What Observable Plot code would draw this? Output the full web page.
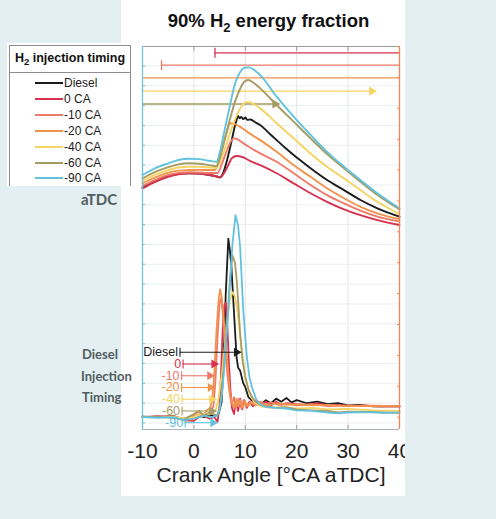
<!DOCTYPE html>
<html>
<head>
<meta charset="utf-8">
<script src="https://cdn.jsdelivr.net/npm/d3@7"></script>
<script src="https://cdn.jsdelivr.net/npm/@observablehq/plot@0.6"></script>
<style>
html,body{margin:0;padding:0;}
body{width:496px;height:519px;background:#e3eff1;position:relative;overflow:hidden;font-family:"Liberation Sans",Arial,sans-serif;}
#panel{position:absolute;left:121px;top:0;width:284px;height:496px;background:#fff;overflow:hidden;}
#panel svg{position:absolute;left:0;top:0;}
#title{position:absolute;left:0;top:12px;width:295px;text-align:center;font-weight:bold;font-size:18.5px;line-height:18.5px;color:#111;white-space:nowrap;}
#title sub{font-size:13px;vertical-align:-5px;line-height:0;}
#legend{position:absolute;left:7px;top:43px;width:127px;height:143px;background:#fff;overflow:hidden;}
#legbox{position:absolute;left:2px;top:2px;width:120px;height:160px;border:1px solid #8c8c8c;}
#legtitle{position:absolute;left:0;top:0;width:120px;height:26px;border-bottom:1px solid #8c8c8c;text-align:center;font-weight:bold;font-size:12.5px;line-height:25px;color:#111;white-space:nowrap;}
#legtitle sub{font-size:9.5px;vertical-align:-3px;line-height:0;}
.item{position:absolute;left:0;height:14px;width:120px;font-size:12px;line-height:14px;color:#222;white-space:nowrap;}
.sw{position:absolute;left:25px;top:6px;width:28px;height:2px;display:block;}
.lab{position:absolute;left:54px;top:0;}
.side{position:absolute;font-family:Lato,"Open Sans",sans-serif;font-weight:bold;color:#515c60;white-space:nowrap;}
</style>
</head>
<body>
<div id="panel"><div id="title">90% H<sub>2</sub> energy fraction</div></div>
<div class="side" style="left:81px;top:190px;font-size:15px;line-height:18px;">aTDC</div>
<div class="side" style="left:82px;top:345px;font-size:13px;line-height:18px;">Diesel</div>
<div class="side" style="left:81px;top:367px;font-size:13px;line-height:18px;">Injection</div>
<div class="side" style="left:82px;top:388px;font-size:13px;line-height:18px;">Timing</div>
<div id="legend"><div id="legbox"><div id="legtitle">H<sub>2</sub> injection timing</div></div></div>
<script>
// ---------------- data ----------------
const xTicks = [-10, 0, 10, 20, 30, 40];
const seriesNames = ["Diesel", "0 CA", "-10 CA", "-20 CA", "-40 CA", "-60 CA", "-90 CA"];
const seriesColors = ["#1c1c1c", "#d8304e", "#ee7a6a", "#f2934c", "#f5d462", "#a69b62", "#62c2de"];
const legendTitle = "injection timing";
const xLabel = "Crank Angle [°CA aTDC]";

// cylinder pressure (left axis units)
const pressureDiesel = [[-10,118.6],[-7.5,121.9],[-5,124.6],[-3,125.6],[-1,125.9],[1,125.7],[3,125.0],[4.3,124.4],[5.1,123.8],[5.6,125.5],[6.5,133],[7.4,143],[8.0,150],[8.3,152.7],[8.6,154.8],[8.9,153.6],[9.2,154.3],[9.6,153.2],[10.0,154.0],[10.4,152.8],[11.0,153.0],[12.0,151.5],[12.9,150.2],[14.5,146.4],[16.1,142.6],[17.8,138.6],[19.4,135.1],[21,131.8],[22.7,128.4],[25.9,122.5],[29.2,117.4],[32.4,112.4],[35.7,108.2],[40,104.0]];
const pressure0 = [[-10,118.3],[-7.5,121.6],[-5,124.1],[-3,125.4],[-1,125.9],[1,125.7],[3,125.0],[4.3,124.4],[5.1,123.8],[5.6,125],[6.5,129],[7.4,133.5],[8.3,134.6],[9.5,134],[11,132],[12.9,130.0],[16.1,125.9],[19.4,120.8],[22.7,115.8],[25.9,111.5],[29.2,107.7],[32.4,104.8],[35.7,102.3],[40,99.8]];
const pressure10 = [[-10,119.5],[-7.5,122.6],[-5,125.0],[-3,126.1],[-1,126.4],[1,126.3],[3,126.0],[4.6,126],[5.5,131],[6.5,138],[7.2,142],[7.7,143.5],[8.5,143],[9.5,141.2],[10.5,139.5],[12.9,135.9],[16.1,131.7],[19.4,125.9],[22.7,120.0],[25.9,114.9],[29.2,110.7],[32.4,107.0],[35.7,104.0],[40,101.5]];
const pressure20 = [[-10,120.8],[-7.5,123.8],[-5,126.2],[-3,127.2],[-1,127.5],[1,127.6],[3,127.5],[4.1,127.5],[5.0,134],[6.0,143],[6.6,148.5],[7.0,151.1],[7.6,151],[8.3,150.2],[9.0,149.3],[10.5,146.5],[12.9,142.6],[16.1,136.7],[19.4,130.0],[22.7,124.1],[25.9,118.3],[29.2,113.3],[32.4,109.0],[35.7,105.7],[40,102.7]];
const pressure40 = [[-10,122.1],[-7.5,125.2],[-5,127.5],[-3,128.8],[-1,129.2],[1,129.1],[3,128.9],[4.4,128.5],[5.0,131],[6.0,138],[7.0,146],[8.0,153],[9.0,158.5],[9.8,161.2],[10.6,161.9],[11.6,160.8],[12.9,158.6],[16.1,151.1],[19.4,143.5],[22.7,135.9],[25.9,129.2],[29.2,123.3],[32.4,117.4],[35.7,111.5],[40,105.3]];
const pressure60 = [[-10,123.3],[-7.5,126.6],[-5,128.9],[-3,130.4],[-1,130.9],[1,130.7],[3,130.0],[4.4,129.5],[5.0,133],[6.0,143],[7.0,153],[8.0,162],[9.0,168.5],[9.8,172],[10.6,172.9],[11.6,171.5],[12.9,168.7],[16.1,160.3],[19.4,151.9],[22.7,143.5],[25.9,135.6],[29.2,128.4],[32.4,121.6],[35.7,114.9],[40,107.7]];
const pressure90 = [[-10,125.0],[-7.5,128.5],[-5,130.9],[-3,132.6],[-1,133.2],[1,133.0],[3,132.2],[4.4,131.7],[5.0,136],[6.0,148],[7.0,160],[8.0,171],[9.0,177],[9.8,179],[10.6,179.3],[11.4,178.5],[12.2,177],[12.9,175.4],[16.1,164.5],[19.4,154.4],[22.7,145.2],[25.9,136.7],[29.2,129.2],[32.4,122.5],[35.7,115.8],[40,108.2]];

// heat release rate (right axis units)
const hrrDiesel = [[-10,0.02],[-7,0.0],[-4,0.04],[-2,-0.08],[0,-0.1],[1,0.05],[2,0.0],[3,0.08],[4,0.02],[4.8,0.1],[5.4,0.5],[5.8,2.0],[6.2,4.0],[6.7,5.78],[7.0,5.4],[7.3,4.86],[7.85,3.24],[8.3,1.94],[8.6,1.6],[9.0,1.5],[9.6,1.1],[10.0,0.97],[10.6,0.65],[11.2,0.55],[12,0.5],[13,0.4],[14,0.55],[15,0.45],[16,0.6],[17,0.5],[18,0.62],[19,0.48],[20,0.55],[22,0.45],[24,0.5],[26,0.42],[28,0.45],[30,0.38],[32,0.4],[35,0.35],[38,0.36],[40,0.35]];
const hrr0 = [[-10,0.0],[-7,0.03],[-4,0.0],[-2,-0.1],[0,-0.12],[1,0.0],[2,0.05],[3,-0.05],[4,0.0],[4.6,-0.15],[5.0,0.4],[5.3,1.5],[5.6,2.8],[5.9,3.6],[6.2,3.7],[6.5,3.0],[6.8,1.8],[7.1,0.9],[7.4,0.3],[7.8,0.1],[8.2,0.55],[8.6,0.2],[9.0,0.6],[9.4,0.25],[9.8,0.55],[10.3,0.3],[10.8,0.5],[11.5,0.35],[12.2,0.55],[13,0.4],[14,0.5],[15,0.38],[16,0.5],[17,0.4],[18,0.45],[20,0.42],[22,0.4],[24,0.45],[26,0.38],[28,0.4],[30,0.36],[33,0.38],[36,0.35],[40,0.36]];
const hrr10 = [[-10,0.0],[-7,0.02],[-4,0.03],[-2,-0.06],[0,-0.08],[1,0.1],[2,0.05],[3,0.12],[3.8,0.35],[4.2,1.2],[4.6,2.6],[5.0,3.7],[5.3,3.85],[5.6,3.4],[6.0,2.4],[6.5,1.4],[7.0,0.7],[7.4,0.4],[7.8,0.65],[8.2,0.3],[8.7,0.6],[9.2,0.3],[9.7,0.55],[10.2,0.35],[11,0.5],[12,0.38],[13,0.5],[14,0.4],[15,0.48],[16.5,0.4],[18,0.45],[20,0.38],[23,0.42],[26,0.36],[30,0.38],[35,0.35],[40,0.34]];
const hrr20 = [[-10,0.0],[-7,0.02],[-4,0.0],[-2,-0.05],[0,0.05],[1,0.2],[1.8,0.05],[2.5,0.22],[3.2,0.3],[3.6,0.6],[4.0,1.5],[4.4,2.8],[4.8,3.8],[5.1,4.14],[5.4,3.9],[5.8,3.2],[6.05,2.7],[6.5,1.84],[7.0,0.77],[7.4,0.5],[7.8,0.3],[8.2,0.6],[8.6,0.35],[9.0,0.55],[9.5,0.3],[10,0.5],[10.5,0.35],[11.2,0.48],[12,0.38],[13,0.45],[14.5,0.38],[16,0.45],[18,0.4],[20,0.42],[23,0.38],[26,0.4],[30,0.36],[35,0.37],[40,0.36]];
const hrr40 = [[-10,0.0],[-7,0.0],[-4,0.02],[-2,-0.05],[0,0.0],[1.5,0.1],[3,0.1],[4.2,0.2],[4.8,0.6],[5.5,1.5],[6.0,2.3],[6.5,3.1],[7.0,3.8],[7.5,4.05],[8.0,3.9],[8.5,3.4],[9.0,2.6],[9.5,1.9],[10.0,1.3],[10.6,0.9],[11.3,0.6],[12,0.45],[13,0.35],[15,0.3],[17,0.32],[20,0.28],[23,0.3],[26,0.25],[30,0.27],[35,0.22],[40,0.2]];
const hrr60 = [[-10,0.0],[-7,0.02],[-4,-0.03],[-2,-0.08],[0,0.1],[1,0.2],[2,0.05],[3,0.15],[4.5,0.05],[5.0,0.3],[5.5,0.9],[6.0,2.0],[6.5,3.2],[7.0,4.4],[7.5,5.24],[8.0,5.0],[8.4,4.3],[9.0,2.7],[9.5,1.8],[10.0,1.3],[10.6,0.9],[11.3,0.65],[12,0.5],[13,0.4],[14,0.35],[16,0.3],[18,0.32],[20,0.25],[23,0.22],[26,0.2],[28,0.15],[30,0.18],[34,0.17],[37,0.15],[40,0.14]];
const hrr90 = [[-10,0.0],[-7,-0.02],[-4,0.0],[-2,-0.1],[0,-0.05],[2,0.05],[3.5,0.0],[4.5,0.05],[5.0,0.2],[5.5,0.8],[6.0,1.8],[6.5,3.0],[7.0,4.3],[7.5,5.6],[8.1,6.54],[8.6,6.2],[9.0,5.5],[9.6,3.46],[10.3,1.94],[10.8,1.3],[11.3,0.97],[12.2,0.54],[13,0.4],[14,0.33],[16,0.3],[18,0.28],[20,0.22],[23,0.2],[26,0.15],[28,0.12],[30,0.15],[34,0.16],[37,0.14],[40,0.15]];

// diesel injection timing annotations (right axis units)
const dieselLabels = ["Diesel", "0", "-10", "-20", "-40", "-60", "-90"];
const dieselLevels = [2.1, 1.72, 1.34, 0.96, 0.58, 0.2, -0.18];
const dieselStart = [-2.7, -2.1, -2.4, -2.4, -2.3, -2.3, -1.7];
const dieselEnd = [8.3, 3.9, 3.1, 3.2, 3.5, 3.5, 3.7];

// H2 injection timing bars (left axis units)
const h2Series = ["0 CA", "-10 CA", "-20 CA", "-40 CA", "-60 CA"];
const h2Levels = [186.6, 180.4, 174.0, 167.3, 160.8];
const h2Start = [4.1, -6.3, -10, -10, -10];
const h2End = [40, 40, 40, 34.6, 15.8];

// axis settings
const xDomain = [-10, 40];
const leftDomain = [-3.3, 189.8];
const rightDomain = [-0.4, 12];
const leftTicks = d3.range(0, 190, 10);
const rightTicks = d3.range(0, 13, 1);

// ---------------- build ----------------
const pressureSeries = [pressureDiesel, pressure0, pressure10, pressure20, pressure40, pressure60, pressure90];
const hrrSeries = [hrrDiesel, hrr0, hrr10, hrr20, hrr40, hrr60, hrr90];
const pressureData = seriesNames.flatMap((name, i) => pressureSeries[i].map(([ca, v]) => ({name, ca, v})));
const hrrData = seriesNames.flatMap((name, i) => hrrSeries[i].map(([ca, v]) => ({name, ca, v})));
const dieselRows = seriesNames.map((name, i) => ({name, label: dieselLabels[i], level: dieselLevels[i], start: dieselStart[i], end: dieselEnd[i]}));
const h2Rows = h2Series.map((name, i) => ({name, level: h2Levels[i], start: h2Start[i], end: h2End[i]}));

const BLUE_AXIS = "#72c0de", ORANGE_AXIS = "#f08658", GRAY_AXIS = "#9a9a9a";
const W = 284, H = 496;
const margins = {marginTop: 46, marginRight: 6, marginBottom: 67, marginLeft: 21};
const vbar = {draw(ctx, size) { const h = Math.sqrt(size / Math.PI); ctx.moveTo(0, -h); ctx.lineTo(0, h); }};
const color = {domain: seriesNames, range: seriesColors};
const font = "Liberation Sans, Arial, sans-serif";

const plotA = Plot.plot({
  width: W, height: H, ...margins,
  style: {background: "transparent", fontFamily: font, color: "#222"},
  x: {domain: xDomain, label: null, axis: null},
  y: {domain: leftDomain, label: null, axis: null},
  color,
  marks: [
    Plot.gridY(leftTicks, {stroke: "#ebeef0", strokeOpacity: 1}),
    Plot.gridX([0, 10, 20, 30], {stroke: "#e4e7e9", strokeOpacity: 1}),
    Plot.ruleY([leftDomain[1]], {stroke: GRAY_AXIS}),
    Plot.ruleY([leftDomain[0]], {stroke: "#a9b4bb"}),
    Plot.axisX(xTicks, {anchor: "bottom", tickSize: 0, tickPadding: 14, fontSize: 21, tickFormat: d => String(d), label: null}),
    Plot.axisX(xTicks, {anchor: "bottom", tickSize: -4, tickFormat: () => "", label: null, stroke: GRAY_AXIS}),
    Plot.axisX(xTicks, {anchor: "top", tickSize: -4, tickFormat: () => "", label: null, stroke: GRAY_AXIS}),
    Plot.axisY(leftTicks, {anchor: "left", tickSize: -3, tickFormat: () => "", label: null, stroke: BLUE_AXIS}),
    Plot.text([xLabel], {frameAnchor: "bottom", dy: 52.6, fontSize: 21, fill: "#222"}),
    Plot.ruleY(h2Rows, {y: "level", x1: "start", x2: "end", stroke: "name", strokeWidth: 1.3}),
    Plot.dot(h2Rows.filter(d => d.start > xDomain[0]), {x: "start", y: "level", symbol: vbar, r: 5, stroke: "name", fill: "none", strokeWidth: 1.3}),
    Plot.dot(h2Rows.filter(d => d.end < xDomain[1]), {x: "end", y: "level", symbol: "triangle", rotate: 90, r: 3.4, fill: "name", stroke: "none"}),
    Plot.line(pressureData, {x: "ca", y: "v", z: "name", stroke: "name", strokeWidth: 1.9, curve: "monotone-x"}),
    Plot.ruleX([xDomain[0]], {stroke: BLUE_AXIS, strokeWidth: 1.3})
  ]
});

const plotB = Plot.plot({
  width: W, height: H, ...margins,
  style: {background: "transparent", fontFamily: font, color: "#222"},
  x: {domain: xDomain, label: null, axis: null},
  y: {domain: rightDomain, label: null, axis: null},
  color,
  marks: [
    Plot.axisY(rightTicks, {anchor: "right", tickSize: -3, tickFormat: () => "", label: null, stroke: ORANGE_AXIS}),
    Plot.line(hrrData, {x: "ca", y: "v", z: "name", stroke: "name", strokeWidth: 1.8}),
    Plot.ruleY(dieselRows, {y: "level", x1: "start", x2: "end", stroke: "name", strokeWidth: 1.1}),
    Plot.dot(dieselRows, {x: "start", y: "level", symbol: vbar, r: 4.5, stroke: "name", fill: "none", strokeWidth: 1.1}),
    Plot.dot(dieselRows, {x: "end", y: "level", symbol: "triangle", rotate: 90, r: 3.3, fill: "name", stroke: "none"}),
    Plot.text(dieselRows, {x: "start", y: "level", text: "label", textAnchor: "end", dx: -2, fill: "name", fontSize: 12.5}),
    Plot.ruleX([xDomain[1]], {stroke: ORANGE_AXIS, strokeWidth: 1.3})
  ]
});

const panel = document.getElementById("panel");
panel.appendChild(plotA);
panel.appendChild(plotB);

// legend
const legbox = document.getElementById("legbox");
document.getElementById("legtitle").innerHTML = "H<sub>2</sub> " + legendTitle;
seriesNames.forEach((name, i) => {
  const item = document.createElement("div");
  item.className = "item";
  item.style.top = Math.round(30 + i * 15.9) + "px";
  const sw = document.createElement("span");
  sw.className = "sw";
  sw.style.backgroundColor = seriesColors[i];
  const lab = document.createElement("span");
  lab.className = "lab";
  lab.textContent = name;
  item.appendChild(sw);
  item.appendChild(lab);
  legbox.appendChild(item);
});
</script>
</body>
</html>
